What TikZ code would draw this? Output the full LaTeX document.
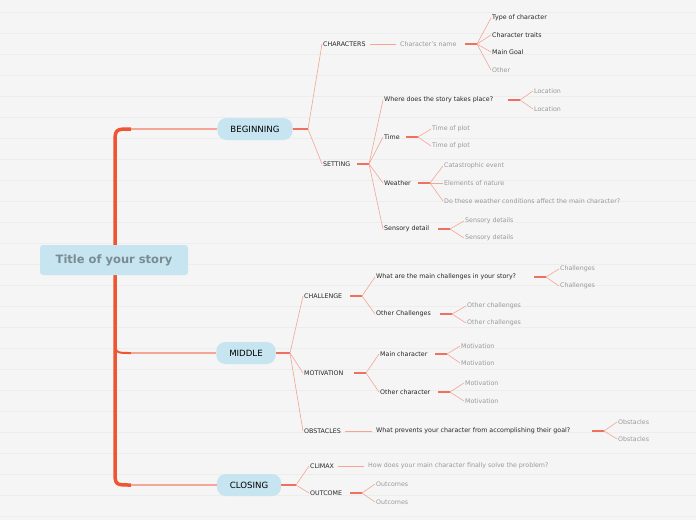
\documentclass[tikz,border=0pt]{standalone}
\usepackage{fontspec}
\setmainfont{DejaVu Sans}
\begin{document}
\begin{tikzpicture}[x=1pt,y=-1pt,
 t/.style={anchor=west,inner sep=1pt,font=\fontsize{6.3}{7}\selectfont,text=black!85},
 g/.style={t,text=black!40},
 pill/.style={fill=bluebox,rounded corners=9pt,minimum height=22pt,inner xsep=13pt,font=\fontsize{8.6}{9}\selectfont},
 ln/.style={draw=lnc,line width=0.6pt},
 hubl/.style={draw=hubc,line width=1.2pt}]
\definecolor{bluebox}{HTML}{C6E5F0}
\definecolor{lnc}{HTML}{F4A595}
\definecolor{hubc}{HTML}{EE7060}
\definecolor{trunk}{HTML}{EE5533}
\definecolor{tt}{HTML}{7A8C92}
\fill[white!96!black] (0,0) rectangle (696,520);
\useasboundingbox (0,0) rectangle (696,520);
\foreach \y in {12,33,54,75,96,117,138,159,180,201,222,243,264,285,306,327,348,369,390,411,432,453,474,495,516}
 \draw[black!7,line width=0.5pt] (0,\y) -- (696,\y);
% main nodes
\node[pill] (B) at (255,129) {BEGINNING};
\node[pill] (M) at (246,353) {MIDDLE};
\node[pill] (C) at (249,485) {CLOSING};
\draw[trunk,line width=3.5pt] (115,240) -- (115,145) .. controls (115,129) .. (131,129);
\draw[trunk,line width=3.5pt] (115,240) -- (115,470) .. controls (115,485) .. (131,485);
\draw[trunk,line width=2pt] (115,338) .. controls (115,353) .. (131,353);
\draw[lnc,line width=1.2pt] (131,129) -- (B.west);
\draw[lnc,line width=1.2pt] (131,353) -- (M.west);
\draw[lnc,line width=1.2pt] (131,485) -- (C.west);
\node[fill=bluebox,rounded corners=3pt,minimum width=148pt,minimum height=30pt,font=\bfseries\fontsize{11.5}{13}\selectfont,text=tt] (T) at (114,260) {Title of your story};
% BEGINNING
\node[t] (ch) at (322,44) {CHARACTERS};
\node[t] (se) at (322,164) {SETTING};
\coordinate (hB) at (308,129);
\draw[ln] (B.east) -- (hB) -- (ch.west); \draw[ln] (hB) -- (se.west);
\draw[hubl] (B.east) -- (hB);
\node[g] (cn) at (399,44) {Character's name};
\draw[ln] (ch.east) ++(3,0) -- ([xshift=-3pt]cn.west);
\coordinate (hcn) at (477,44);
\node[t] (c1) at (491,18) {Type of character};
\node[t] (c2) at (491,35) {Character traits};
\node[t] (c3) at (491,52) {Main Goal};
\node[g] (c4) at (491,70) {Other};
\draw[hubl] ([xshift=-12pt]hcn) -- (hcn);
\foreach \c in {c1,c2,c3,c4} \draw[ln] (hcn) -- (\c.west);
\coordinate (hse) at (369,164);
\draw[hubl] ([xshift=-12pt]hse) -- (hse);
\node[t] (s1) at (383,100) {Where does the story takes place?};
\node[t] (s2) at (383,137) {Time};
\node[t] (s3) at (383,183) {Weather};
\node[t] (s4) at (383,229) {Sensory detail};
\foreach \c in {s1,s2,s3,s4} \draw[ln] (hse) -- (\c.west);
\coordinate (h1) at (520,100);
\draw[hubl] ([xshift=-12pt]h1) -- (h1);
\node[g] (l1) at (533,91) {Location}; \node[g] (l2) at (533,109) {Location};
\draw[ln] (h1) -- (l1.west); \draw[ln] (h1) -- (l2.west);
\coordinate (h2) at (418,137);
\draw[hubl] ([xshift=-12pt]h2) -- (h2);
\node[g] (p1) at (431,129) {Time of plot}; \node[g] (p2) at (431,146) {Time of plot};
\draw[ln] (h2) -- (p1.west); \draw[ln] (h2) -- (p2.west);
\coordinate (h3) at (430,183);
\draw[hubl] ([xshift=-12pt]h3) -- (h3);
\node[g] (w1) at (443,166) {Catastrophic event};
\node[g] (w2) at (443,183) {Elements of nature};
\node[g] (w3) at (443,201) {Do these weather conditions affect the main character?};
\foreach \c in {w1,w2,w3} \draw[ln] (h3) -- (\c.west);
\coordinate (h4) at (450,229);
\draw[hubl] ([xshift=-12pt]h4) -- (h4);
\node[g] (d1) at (464,221) {Sensory details}; \node[g] (d2) at (464,238) {Sensory details};
\draw[ln] (h4) -- (d1.west); \draw[ln] (h4) -- (d2.west);
% MIDDLE
\coordinate (hM) at (290,353);
\draw[hubl] (M.east) -- (hM);
\node[t] (mc) at (303,296) {CHALLENGE};
\node[t] (mm) at (303,373) {MOTIVATION};
\node[t] (mo) at (303,431) {OBSTACLES};
\foreach \c in {mc,mm,mo} \draw[ln] (hM) -- (\c.west);
\coordinate (hmc) at (362,296);
\draw[hubl] ([xshift=-12pt]hmc) -- (hmc);
\node[t] (a1) at (375,277) {What are the main challenges in your story?};
\node[t] (a2) at (375,314) {Other Challenges};
\draw[ln] (hmc) -- (a1.west); \draw[ln] (hmc) -- (a2.west);
\coordinate (ha1) at (546,277);
\draw[hubl] ([xshift=-12pt]ha1) -- (ha1);
\node[g] (b1) at (559,269) {Challenges}; \node[g] (b2) at (559,286) {Challenges};
\draw[ln] (ha1) -- (b1.west); \draw[ln] (ha1) -- (b2.west);
\coordinate (ha2) at (452,314);
\draw[hubl] ([xshift=-12pt]ha2) -- (ha2);
\node[g] (e1) at (466,306) {Other challenges}; \node[g] (e2) at (466,323) {Other challenges};
\draw[ln] (ha2) -- (e1.west); \draw[ln] (ha2) -- (e2.west);
\coordinate (hmm) at (366,373);
\draw[hubl] ([xshift=-12pt]hmm) -- (hmm);
\node[t] (m1) at (379,354) {Main character};
\node[t] (m2) at (379,392) {Other character};
\draw[ln] (hmm) -- (m1.west); \draw[ln] (hmm) -- (m2.west);
\coordinate (hm1) at (447,354);
\draw[hubl] ([xshift=-12pt]hm1) -- (hm1);
\node[g] (f1) at (460,346) {Motivation}; \node[g] (f2) at (460,363) {Motivation};
\draw[ln] (hm1) -- (f1.west); \draw[ln] (hm1) -- (f2.west);
\coordinate (hm2) at (450,392);
\draw[hubl] ([xshift=-12pt]hm2) -- (hm2);
\node[g] (k1) at (464,383) {Motivation}; \node[g] (k2) at (464,401) {Motivation};
\draw[ln] (hm2) -- (k1.west); \draw[ln] (hm2) -- (k2.west);
\node[t] (op) at (375,431) {What prevents your character from accomplishing their goal?};
\draw[ln] (mo.east) ++(3,0) -- ([xshift=-3pt]op.west);
\coordinate (hop) at (604,431);
\draw[hubl] ([xshift=-12pt]hop) -- (hop);
\node[g] (o1) at (617,422) {Obstacles}; \node[g] (o2) at (617,439) {Obstacles};
\draw[ln] (hop) -- (o1.west); \draw[ln] (hop) -- (o2.west);
% CLOSING
\coordinate (hC) at (296,485);
\draw[hubl] (C.east) -- (hC);
\node[t] (cl) at (309,466) {CLIMAX};
\node[t] (ou) at (309,493) {OUTCOME};
\draw[ln] (hC) -- (cl.west); \draw[ln] (hC) -- (ou.west);
\node[g] (cq) at (367,466) {How does your main character finally solve the problem?};
\draw[ln] (cl.east) ++(3,0) -- ([xshift=-3pt]cq.west);
\coordinate (hou) at (362,493);
\draw[hubl] ([xshift=-12pt]hou) -- (hou);
\node[g] (u1) at (375,484) {Outcomes}; \node[g] (u2) at (375,502) {Outcomes};
\draw[ln] (hou) -- (u1.west); \draw[ln] (hou) -- (u2.west);
\end{tikzpicture}
\end{document}
